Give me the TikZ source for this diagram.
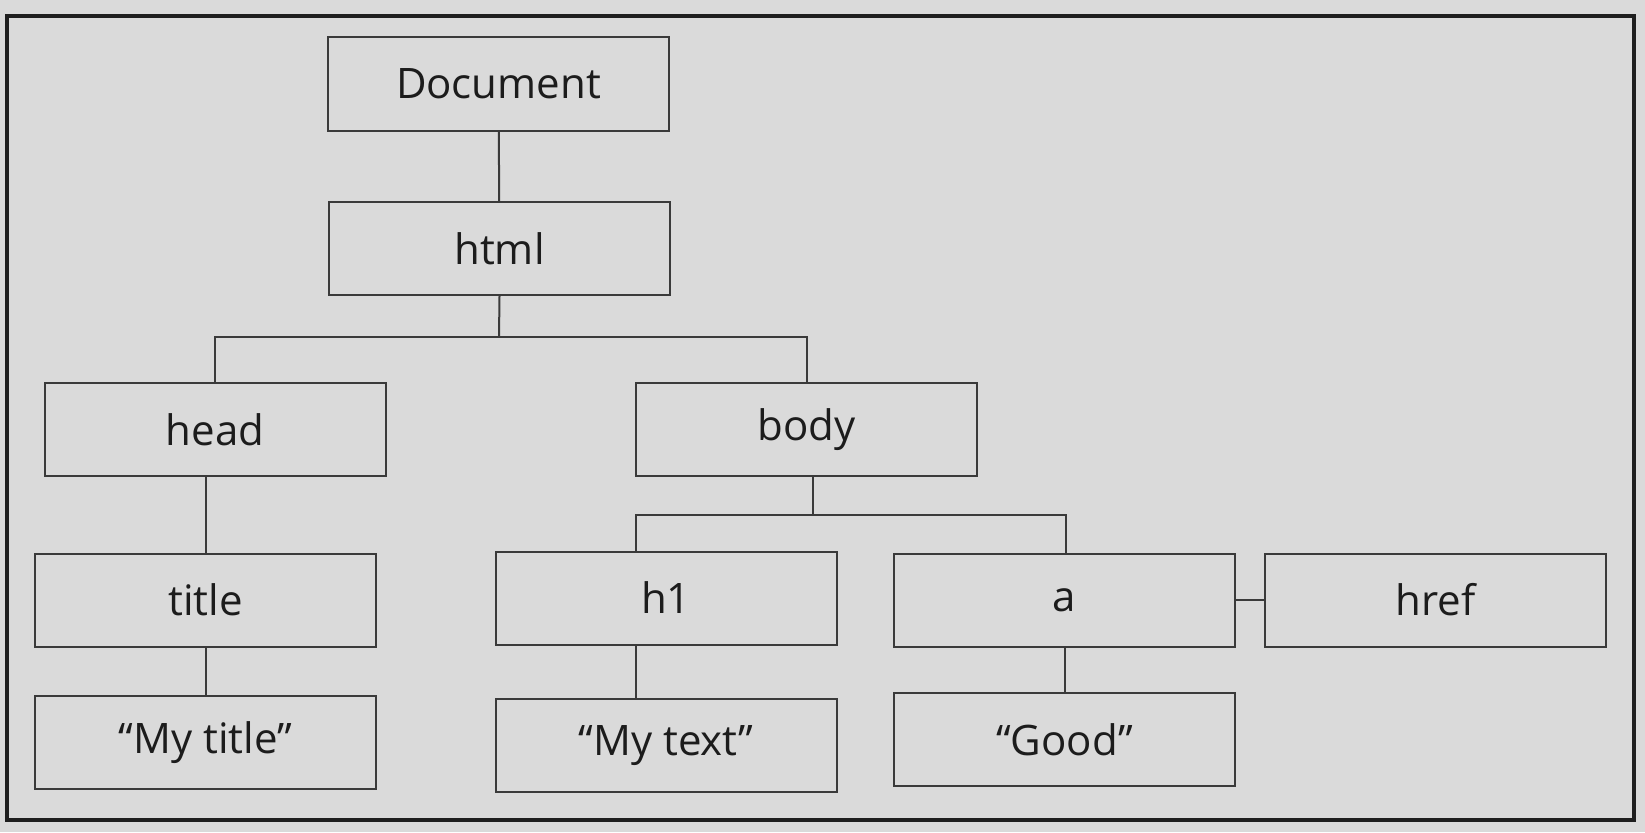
\documentclass[tikz,border=0pt]{standalone}
\usepackage{fontspec}
\setmainfont{Open Sans}
\definecolor{bggray}{HTML}{DADADA}
\definecolor{boxline}{HTML}{3A3A3A}
\definecolor{frameline}{HTML}{1E1E1E}
\definecolor{txtgray}{HTML}{1C1C1C}
\begin{document}
\begin{tikzpicture}[x=1pt, y=-1pt, line width=2pt,
    dom/.style={draw=boxline, fill=bggray, text=txtgray, minimum width=341pt,
      minimum height=93pt, inner sep=0pt, font=\fontsize{42}{50}\selectfont}]
    \useasboundingbox[fill=bggray] (0,0) rectangle (1645,832);
    \draw[frameline, line width=4pt] (7,16) rectangle (1634,820);
    % Nodes
    \node[dom] (doc) at (498.5,84) {Document};
    \node[dom] (html) at (499.5,248.5) {html};
    \node[dom] (head) at (215,429.5) {head};
    \node[dom] (body) at (806.5,429.5) {body};
    \node[dom] (title) at (205.5,600) {title};
    \node[dom] (h1) at (666,598) {h1};
    \node[dom] (a) at (1064.5,600) {a};
    \node[dom] (href) at (1435.75,600) {href};
    \node[dom] (mytitle) at (205.5,742.5) {“My title”};
    \node[dom] (mytext) at (666,745.5) {“My text”};
    \node[dom] (good) at (1064.5,739.5) {“Good”};
    % Branch points
    \coordinate (hj) at (499,337);
    \coordinate (bj) at (813,515);
    \coordinate (h1j) at (636,515);
    \coordinate (aj) at (1066,515);
    \draw[boxline] (doc) -- (html);
    \draw[boxline] (html.south) -- (hj);
    \draw[boxline] (head.north) |- (hj) -| (body.north);
    \draw[boxline] (title.north) -- (title.north |- head.south);
    \draw[boxline] (title) -- (mytitle);
    \draw[boxline] (bj |- body.south) -- (bj);
    \draw[boxline] (h1j |- h1.north) -- (h1j) -- (aj) -- (aj |- a.north);
    \draw[boxline] (h1j |- h1.south) -- (h1j |- mytext.north);
    \draw[boxline] (a) -- (good);
    \draw[boxline] (a) -- (href);
\end{tikzpicture}
\end{document}
